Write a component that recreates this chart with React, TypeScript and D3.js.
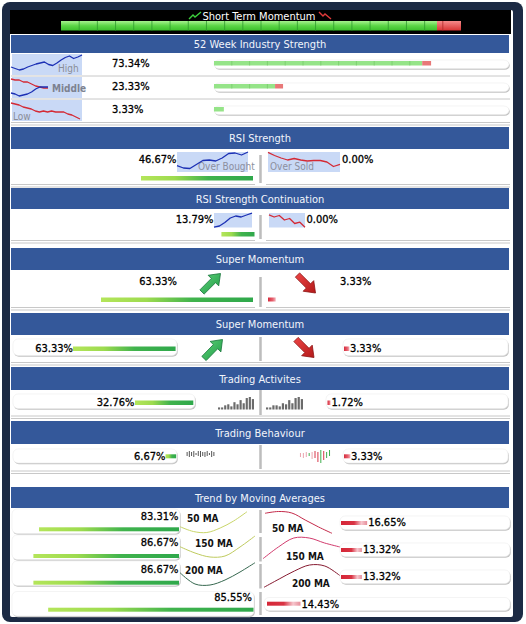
import React from 'react';
import * as d3 from 'd3';

// ---------- DATA ----------
const shortTermUp = 94; // % of the momentum bar that is green
const shortTermSegments = 22;

const industryLabels = ['High', 'Middle', 'Low'];
const industryValues = [73.34, 23.33, 3.33];
const industryRedTail = [3.0, 2.7, 0];
const sparkHigh = [8, 6.5, 5, 6, 8, 9.5, 11, 12, 13, 10.5, 9.5, 12, 15, 17.5, 19, 16.5, 18, 20];
const sparkMiddleRed = [19, 18, 18, 16, 16, 14, 12, 11, 10, 10];
const sparkMiddleBlue = [5, 4, 2, 3, 4, 6, 9, 11, 11, 11];
const sparkLow = [18, 17, 16, 14, 13, 12, 10, 9, 10, 9, 10, 9, 9, 9, 7, 6, 4, 2];

const rsiOverBought = 46.67;
const rsiOverSold = 0.0;
const rsiBoughtSpark = [6.3, 4, 3.5, 7.5, 11.5, 12, 11, 14, 18.5, 19, 17, 20];
const rsiSoldSpark = [19.7, 16.5, 14, 12, 13.5, 12, 11, 11.5, 11.5, 10, 5.5, 7.7];

const rsiContUp = 13.79;
const rsiContDown = 0.0;
const rsiContUpSpark = [0.3, 1.5, 5, 9.5, 11.5, 10.5, 12.5, 14.3];
const rsiContDownSpark = [12.7, 10.5, 12, 7.5, 9, 4, 5.3, 0.3];

const superMomentumUp = 63.33;
const superMomentumDown = 3.33;

const tradingActUp = 32.76;
const tradingActDown = 1.72;
const activityLeft = [2, 2, 4, 5, 3, 7, 5, 9, 6, 11, 12, 10];
const activityRight = [2, 2, 4, 4, 3, 6, 5, 9, 6, 11, 12, 10];

const tradingBehUp = 6.67;
const tradingBehDown = 3.33;
const behLeftHi = [5, 6, 5, 6, 4, 6, 6, 5, 5, 6, 4, 6, 5];
const behLeftLo = [1, 0, 1, 0, 2, 1, 0, 1, 0, 1, 2, 0, 1];
const behRightHi = [11, 11, 12, 11, 12, 13, 12, 14, 13, 12, 14];
const behRightLo = [7, 6, 7, 8, 5, 6, 2, 1, 4, 6, 8];
const behRightType = ['l', 'l', 'l', 'g', 'l', 'r', 'r', 'g', 'r', 'g', 'g'];

const maLabels = ['50 MA', '150 MA', '200 MA'];
const maAbove = [83.31, 86.67, 86.67];
const maBelow = [16.65, 13.32, 13.32];
const maAboveAll = 85.55;
const maBelowAll = 14.43;
const maCurveUp = [
  [7.3, 2.5, 1.5, 6, 13, 22.3],
  [12.3, 6, 2, 3, 12, 23],
  [15.3, 4, 3, 8, 16, 25.3],
];
const maCurveDown = [
  [20.7, 22.5, 21, 14, 7, 0.7],
  [0.3, 12, 21, 21, 16, 12],
  [0.7, 9, 17, 23, 22, 12.3],
];

// ---------- STYLE ----------
const FONT = "'DejaVu Sans Condensed','DejaVu Sans','Liberation Sans',sans-serif";
const HEADER = '#34589a';
const THUMB = '#c9d9f6';
const BLUE = '#1c30b4';
const RED = '#d42a35';
const LINE = '#c8c8c8';
const SEP = '#bdbdbd';

const pct = (v: number) => d3.format('.2f')(v) + '%';

function Pct({ x, y, v, anchor = 'start' }: { x: number; y: number; v: number; anchor?: string }) {
  return (
    <text x={x} y={y} textAnchor={anchor as any} fontSize={11} fill="#000" stroke="#000" strokeWidth={0.3}>
      {pct(v)}
    </text>
  );
}

function Header({ y, h, title }: { y: number; h: number; title: string }) {
  return (
    <g>
      <rect x={11} y={y} width={498} height={h} fill={HEADER} />
      <text x={260} y={y + h / 2 + 4} textAnchor="middle" fill="#f2f5fb" fontSize={11}>
        {title}
      </text>
    </g>
  );
}

function DLine({ y, gap = false }: { y: number; gap?: boolean }) {
  return (
    <g stroke={LINE} strokeWidth={1}>
      {gap ? (
        <>
          <line x1={11} x2={255} y1={y} y2={y} />
          <line x1={266} x2={510} y1={y} y2={y} />
        </>
      ) : (
        <line x1={11} x2={510} y1={y} y2={y} />
      )}
      <line x1={11} x2={510} y1={y + 2.5} y2={y + 2.5} />
    </g>
  );
}

function Sep({ y1, y2 }: { y1: number; y2: number }) {
  return <line x1={260.5} x2={260.5} y1={y1} y2={y2} stroke={SEP} strokeWidth={2.5} />;
}

function Spark({ data, x0, x1, top, bottom, max, color, w = 1.3 }: any) {
  const x = d3.scaleLinear().domain([0, data.length - 1]).range([x0, x1]);
  const y = d3.scaleLinear().domain([0, max]).range([bottom, top]);
  const line = d3.line<number>().x((_, i) => x(i)).y((d) => y(d));
  return <path d={line(data) || ''} fill="none" stroke={color} strokeWidth={w} strokeLinejoin="round" />;
}

function Curve({ data, x0, x1, top, bottom, max, color }: any) {
  const x = d3.scaleLinear().domain([0, data.length - 1]).range([x0, x1]);
  const y = d3.scaleLinear().domain([0, max]).range([bottom, top]);
  const line = d3.line<number>().x((_, i) => x(i)).y((d) => y(d)).curve(d3.curveCatmullRom);
  return <path d={line(data) || ''} fill="none" stroke={color} strokeWidth={1} />;
}

function Box({ x, y, w, h }: { x: number; y: number; w: number; h: number }) {
  return (
    <g>
      <rect x={x + 0.8} y={y + 1.2} width={w} height={h} rx={5} fill="#c4c4c4" filter="url(#blur)" />
      <rect x={x} y={y} width={w} height={h} rx={5} fill="#fff" stroke="#ececec" strokeWidth={0.6} />
    </g>
  );
}

function arrowPath(x1: number, y1: number, x2: number, y2: number, sw = 3, hw = 7.5, hl = 10) {
  const dx = x2 - x1, dy = y2 - y1;
  const len = Math.hypot(dx, dy);
  const ux = dx / len, uy = dy / len;
  const nx = -uy, ny = ux;
  const bx = x2 - ux * hl, by = y2 - uy * hl;
  const p = [
    [x1 + nx * sw, y1 + ny * sw],
    [bx + nx * sw, by + ny * sw],
    [bx + nx * hw, by + ny * hw],
    [x2, y2],
    [bx - nx * hw, by - ny * hw],
    [bx - nx * sw, by - ny * sw],
    [x1 - nx * sw, y1 - ny * sw],
  ];
  return 'M' + p.map((q) => q.join(',')).join('L') + 'Z';
}

function Arrow({ x1, y1, x2, y2, up }: any) {
  return (
    <path
      d={arrowPath(x1, y1, x2, y2)}
      fill={up ? 'url(#gArrow)' : 'url(#rArrow)'}
      stroke={up ? '#17743a' : '#8c1212'}
      strokeWidth={0.8}
    />
  );
}

function MiniBars({ data, x0, x1, bottom, h }: any) {
  const x = d3.scaleBand<number>().domain(d3.range(data.length)).range([x0, x1]).paddingInner(0.3);
  const y = d3.scaleLinear().domain([0, 12]).range([0, h]);
  return (
    <g fill="#6b6b6b">
      {data.map((d: number, i: number) => (
        <rect key={i} x={x(i)} y={bottom - y(d)} width={x.bandwidth()} height={y(d)} />
      ))}
    </g>
  );
}

export default function App() {
  // scales
  const stX = d3.scaleLinear().domain([0, 100]).range([61, 461]);
  const wk = d3.scaleLinear().domain([0, 100]).range([0, 296]);
  const wide = d3.scaleLinear().domain([0, 100]).range([0, 240]);
  const wideR = d3.scaleLinear().domain([0, 100]).range([0, 232]);
  const box = d3.scaleLinear().domain([0, 100]).range([0, 162]);
  const boxTA = d3.scaleLinear().domain([0, 100]).range([0, 178]);
  const boxTB = d3.scaleLinear().domain([0, 100]).range([0, 160]);
  const maL = d3.scaleLinear().domain([0, 100]).range([0, 168]);
  const maR = d3.scaleLinear().domain([0, 100]).range([0, 157]);

  const segW = 400 / shortTermSegments;
  const upEnd = stX(shortTermUp);

  const rowTops = [54, 77, 100];

  const behLX = d3.scaleBand<number>().domain(d3.range(behLeftHi.length)).range([186, 215]);
  const behLY = d3.scaleLinear().domain([0, 6]).range([457, 451]);
  const behRX = d3.scaleBand<number>().domain(d3.range(behRightHi.length)).range([299, 331]);
  const behRY = d3.scaleLinear().domain([0, 15]).range([464, 449]);
  const behColor: Record<string, string> = { l: '#eba3ad', r: '#d8364a', g: '#3fae4e' };

  const maRowTops = [510, 536, 562];
  const maRowBottoms = [534, 559, 588];
  const upCurveX = [[180, 247], [180, 255], [180, 255]];
  const downCurveX = [[265, 332], [263, 340], [264, 340]];
  const upCurveColor = ['#c9d66a', '#bfcb5e', '#36684f'];
  const downCurveColor = ['#c42a4a', '#d23c6e', '#861a30'];
  const upLabelPos = [[187, 521.5], [195, 547], [185, 573.5]];
  const downLabelPos = [[272, 532], [286, 560], [292, 587]];
  const rightBoxY = [516, 543, 570];

  return (
    <svg width={526} height={624} style={{ position: 'absolute', left: 0, top: 0 }} fontFamily={FONT}>
      <defs>
        <linearGradient id="gBar" x1="0" x2="1" y1="0" y2="0">
          <stop offset="0" stopColor="#b4e55a" />
          <stop offset="0.3" stopColor="#9ddb4f" />
          <stop offset="0.6" stopColor="#40b34d" />
          <stop offset="1" stopColor="#2fa84b" />
        </linearGradient>
        <linearGradient id="rBar" x1="0" x2="1" y1="0" y2="0">
          <stop offset="0" stopColor="#d52637" />
          <stop offset="0.5" stopColor="#d93444" />
          <stop offset="0.78" stopColor="#f6c6cd" />
          <stop offset="1" stopColor="#e68e9a" />
        </linearGradient>
        <linearGradient id="rSmall" x1="0" x2="1" y1="0" y2="0">
          <stop offset="0" stopColor="#d42c3c" />
          <stop offset="0.6" stopColor="#e7606e" />
          <stop offset="1" stopColor="#f2b3bb" />
        </linearGradient>
        <linearGradient id="stG" x1="0" x2="0" y1="0" y2="1">
          <stop offset="0" stopColor="#a6f28e" />
          <stop offset="0.5" stopColor="#5bd646" />
          <stop offset="1" stopColor="#3cbf2c" />
        </linearGradient>
        <linearGradient id="stR" x1="0" x2="0" y1="0" y2="1">
          <stop offset="0" stopColor="#f58a8a" />
          <stop offset="1" stopColor="#d83434" />
        </linearGradient>
        <linearGradient id="gArrow" x1="0" x2="1" y1="0" y2="1">
          <stop offset="0" stopColor="#5fd27a" />
          <stop offset="1" stopColor="#1f9a45" />
        </linearGradient>
        <linearGradient id="rArrow" x1="0" x2="1" y1="0" y2="1">
          <stop offset="0" stopColor="#ee4545" />
          <stop offset="1" stopColor="#b31a1a" />
        </linearGradient>
        <filter id="blur" x="-5%" y="-30%" width="110%" height="170%">
          <feGaussianBlur stdDeviation="0.6" />
        </filter>
      </defs>

      {/* frame */}
      <rect x={2} y={2} width={521} height={620} rx={8} fill="#1c2a44" />
      <rect x={10} y={10} width={503} height={607} rx={2} fill="#fff" />

      {/* Short term momentum */}
      <rect x={10} y={10} width={501} height={24} fill="#000" />
      <polyline points="189,19 193,15 195,17 201,12" fill="none" stroke="#3ccf3c" strokeWidth={1.4} />
      <text x={259} y={20} textAnchor="middle" fill="#fff" fontSize={11}>Short Term Momentum</text>
      <polyline points="319,12 323,16 325,14 331,19" fill="none" stroke="#e03a3a" strokeWidth={1.4} />
      <rect x={stX(0)} y={21} width={upEnd - stX(0)} height={9.5} fill="url(#stG)" />
      <rect x={upEnd} y={21} width={stX(100) - upEnd} height={9.5} fill="url(#stR)" />
      {d3.range(1, shortTermSegments).map((i) => {
        const x = stX(0) + i * segW;
        return <line key={i} x1={x} x2={x} y1={21} y2={30.5} stroke={x < upEnd ? '#2f9a2f' : '#b02a2a'} strokeWidth={0.8} />;
      })}

      {/* 52 Week */}
      <Header y={35} h={18} title="52 Week Industry Strength" />
      {industryLabels.map((lab, i) => {
        const top = rowTops[i];
        const v = industryValues[i];
        const full = wk(v);
        const red = wk(industryRedTail[i]);
        return (
          <g key={lab}>
            <rect x={12} y={top} width={70} height={21} fill={THUMB} />
            <Pct x={112} y={top + 13} v={v} />
            <Box x={214} y={top + 6} w={295} h={8.5} />
            <rect x={214} y={top + 7} width={full - red} height={4.5} fill="#95e488" />
            {red > 0 && <rect x={214 + full - red} y={top + 7} width={red} height={4.5} fill="#e87878" />}
            {d3.range(17.8, full - red, 17.8).map((x) => (
              <line key={x} x1={214 + x} x2={214 + x} y1={top + 7} y2={top + 11.5} stroke="#78cc6c" strokeWidth={0.8} />
            ))}
          </g>
        );
      })}
      <Spark data={sparkHigh} x0={11} x1={82} top={54} bottom={75} max={21} color={BLUE} />
      <text x={58} y={72} fontSize={10} fill="#8a8d96">High</text>
      <Spark data={sparkMiddleRed} x0={11} x1={48} top={77} bottom={98} max={21} color={RED} />
      <Spark data={sparkMiddleBlue} x0={11} x1={48} top={77} bottom={98} max={21} color={BLUE} />
      <text x={52} y={92} fontSize={10} fontWeight="bold" fill="#7d8290">Middle</text>
      <Spark data={sparkLow} x0={11} x1={80} top={100} bottom={121} max={21} color={RED} />
      <text x={13} y={119.5} fontSize={10} fill="#8a8d96">Low</text>
      <line x1={11} x2={510} y1={76} y2={76} stroke={LINE} />
      <line x1={11} x2={510} y1={99} y2={99} stroke={LINE} />
      <DLine y={122.5} />

      {/* RSI Strength */}
      <Header y={127} h={22} title="RSI Strength" />
      <Pct x={176.5} y={163} v={rsiOverBought} anchor="end" />
      <rect x={177} y={152} width={71} height={20} fill={THUMB} />
      <text x={198} y={170} fontSize={10} fill="#8c8f9e">Over Bought</text>
      <Spark data={rsiBoughtSpark} x0={177} x1={248} top={152} bottom={172} max={20} color={BLUE} />
      <rect x={253 - wide(rsiOverBought)} y={176} width={wide(rsiOverBought)} height={4.5} fill="url(#gBar)" />
      <Sep y1={155} y2={183} />
      <rect x={268} y={152} width={72} height={20} fill={THUMB} />
      <text x={270} y={170} fontSize={10} fill="#8c8f9e">Over Sold</text>
      <Spark data={rsiSoldSpark} x0={268} x1={340} top={152} bottom={172} max={20} color={RED} />
      <Pct x={342} y={163} v={rsiOverSold} />
      <DLine y={184.5} gap />

      {/* RSI Strength Continuation */}
      <Header y={188} h={21} title="RSI Strength Continuation" />
      <Pct x={213.5} y={223} v={rsiContUp} anchor="end" />
      <rect x={214} y={213} width={38} height={14.5} fill={THUMB} />
      <Spark data={rsiContUpSpark} x0={214} x1={252} top={213} bottom={227.5} max={14.5} color={BLUE} />
      <rect x={254.5 - wide(rsiContUp)} y={232} width={wide(rsiContUp)} height={4.5} fill="url(#gBar)" />
      <Sep y1={215} y2={239} />
      <rect x={269} y={213} width={36} height={14.5} fill={THUMB} />
      <Spark data={rsiContDownSpark} x0={269} x1={305} top={213} bottom={227.5} max={14.5} color={RED} />
      <Pct x={306.5} y={223} v={rsiContDown} />
      <DLine y={240.5} gap />

      {/* Super Momentum 1 */}
      <Header y={248} h={22} title="Super Momentum" />
      <Pct x={177} y={285} v={superMomentumUp} anchor="end" />
      <Arrow x1={202} y1={292} x2={220.5} y2={273.5} up />
      <rect x={253 - wide(superMomentumUp)} y={297.5} width={wide(superMomentumUp)} height={4.5} fill="url(#gBar)" />
      <Sep y1={277} y2={307} />
      <Arrow x1={297.5} y1={275} x2={315.5} y2={293} />
      <Pct x={340} y={285} v={superMomentumDown} />
      <rect x={268} y={297.5} width={wideR(superMomentumDown)} height={4} fill="url(#rSmall)" />
      <DLine y={307.5} gap />

      {/* Super Momentum 2 */}
      <Header y={313} h={22} title="Super Momentum" />
      <Box x={13} y={339} w={164} h={16.5} />
      <Pct x={73} y={352} v={superMomentumUp} anchor="end" />
      <rect x={73} y={346.5} width={box(superMomentumUp)} height={4.5} fill="url(#gBar)" />
      <Arrow x1={204} y1={358.5} x2={222.5} y2={339.5} up />
      <Sep y1={337} y2={361} />
      <Arrow x1={296} y1={339.5} x2={314} y2={357.5} />
      <Box x={343} y={339} w={165} h={16.5} />
      <rect x={344} y={346.5} width={box(superMomentumDown)} height={4.5} fill="url(#rSmall)" />
      <Pct x={344 + box(superMomentumDown) + 0.5} y={352} v={superMomentumDown} />
      <DLine y={362.5} />

      {/* Trading Activites */}
      <Header y={367} h={23} title="Trading Activites" />
      <Box x={13} y={394} w={182} h={14.5} />
      <Pct x={134.5} y={405.5} v={tradingActUp} anchor="end" />
      <rect x={135} y={400.5} width={boxTA(tradingActUp)} height={4.5} fill="url(#gBar)" />
      <MiniBars data={activityLeft} x0={218} x1={254} bottom={409.5} h={12.5} />
      <Sep y1={390} y2={415} />
      <MiniBars data={activityRight} x0={266} x1={303} bottom={409.5} h={12.5} />
      <Box x={326} y={394} w={182} h={14.5} />
      <rect x={327.5} y={400.5} width={boxTA(tradingActDown)} height={4.5} fill="url(#rSmall)" />
      <Pct x={327.5 + boxTA(tradingActDown) + 1} y={405.5} v={tradingActDown} />
      <DLine y={416} />

      {/* Trading Behaviour */}
      <Header y={421} h={23} title="Trading Behaviour" />
      <Box x={13} y={449} w={164} h={14} />
      <Pct x={165.5} y={460} v={tradingBehUp} anchor="end" />
      <rect x={165.5} y={454.3} width={boxTB(tradingBehUp)} height={4} fill="url(#gBar)" />
      {behLeftHi.map((hi, i) => {
        const x = (behLX(i) || 0) + behLX.bandwidth() / 2;
        return <line key={i} x1={x} x2={x} y1={behLY(hi)} y2={behLY(behLeftLo[i])} stroke="#444" strokeWidth={0.9} />;
      })}
      <Sep y1={445} y2={469} />
      {behRightHi.map((hi, i) => {
        const x = (behRX(i) || 0) + behRX.bandwidth() / 2;
        return <line key={i} x1={x} x2={x} y1={behRY(hi)} y2={behRY(behRightLo[i])} stroke={behColor[behRightType[i]]} strokeWidth={1} />;
      })}
      <Box x={343} y={449} w={165} h={14} />
      <rect x={344} y={454.3} width={box(tradingBehDown) + 1} height={4} fill="url(#rSmall)" />
      <Pct x={351} y={460} v={tradingBehDown} />
      <DLine y={471} />

      {/* Trend by Moving Averages */}
      <Header y={487} h={21} title="Trend by Moving Averages" />
      {maLabels.map((lab, i) => {
        const top = maRowTops[i];
        const bottom = maRowBottoms[i];
        const wUp = maL(maAbove[i]);
        const wDn = maR(maBelow[i]);
        const by = [527.3, 554, 580.7][i];
        return (
          <g key={lab}>
            <Box x={12} y={top - 1} w={168} h={24.5} />
            <Pct x={178.5} y={[520, 546, 573.3][i]} v={maAbove[i]} anchor="end" />
            <rect x={179 - wUp} y={by} width={wUp} height={4} fill="url(#gBar)" />
            <Curve data={maCurveUp[i]} x0={upCurveX[i][0]} x1={upCurveX[i][1]} top={bottom - 22} bottom={bottom} max={22} color={upCurveColor[i]} />
            <text x={upLabelPos[i][0]} y={upLabelPos[i][1]} fontSize={10} fontWeight="bold" fill="#111">{lab}</text>
            <Curve data={maCurveDown[i]} x0={downCurveX[i][0]} x1={downCurveX[i][1]} top={bottom - 22} bottom={bottom} max={22} color={downCurveColor[i]} />
            <text x={downLabelPos[i][0]} y={downLabelPos[i][1]} fontSize={10} fontWeight="bold" fill="#111">{lab}</text>
            <Box x={340} y={rightBoxY[i]} w={170} h={13.5} />
            <rect x={341} y={rightBoxY[i] + 5} width={wDn} height={4} fill="url(#rBar)" />
            <Pct x={342 + wDn} y={rightBoxY[i] + 10} v={maBelow[i]} />
          </g>
        );
      })}
      <Box x={12} y={591.5} w={242} h={24.5} />
      <Pct x={252} y={600.7} v={maAboveAll} anchor="end" />
      <rect x={253.5 - wide(maAboveAll)} y={607.7} width={wide(maAboveAll)} height={4} fill="url(#gBar)" />
      <Box x={264} y={597.5} w={246} h={13} />
      <rect x={267} y={601.7} width={wideR(maBelowAll)} height={4} fill="url(#rBar)" />
      <Pct x={268 + wideR(maBelowAll)} y={607.5} v={maBelowAll} />
      <Sep y1={510} y2={533} />
      <Sep y1={537} y2={561.5} />
      <Sep y1={564} y2={588.5} />
      <Sep y1={592} y2={615} />
    </svg>
  );
}
